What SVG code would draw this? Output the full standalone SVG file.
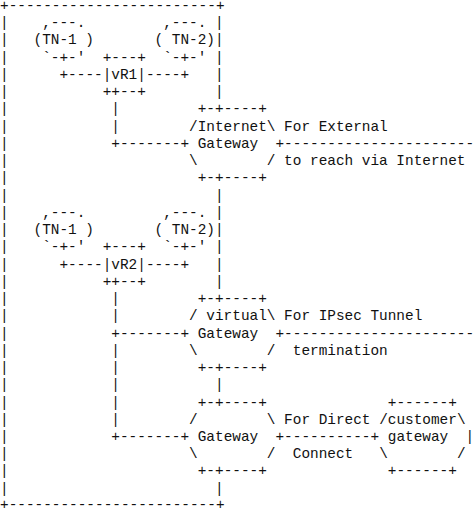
<svg xmlns="http://www.w3.org/2000/svg" width="474" height="510" viewBox="0 0 474 510" xml:space="preserve">
<style>
text { font-family: "Liberation Mono", "Courier New", monospace; font-size: 14.4px; fill: #111; white-space: pre; }
</style>
<rect x="0" y="0" width="474" height="510" fill="#fff"/>
<g id="frame">
<text x="0" y="10">+------------------------+</text>
<text x="0" y="509">+------------------------+</text>
<text><tspan x="0" y="27.24">|</tspan><tspan x="0" y="44.48">|</tspan><tspan x="0" y="61.72">|</tspan><tspan x="0" y="78.96">|</tspan><tspan x="0" y="96.2">|</tspan><tspan x="0" y="113.44">|</tspan><tspan x="0" y="130.68">|</tspan><tspan x="0" y="147.92">|</tspan><tspan x="0" y="165.16">|</tspan><tspan x="0" y="182.4">|</tspan><tspan x="0" y="199.64">|</tspan><tspan x="0" y="216.88">|</tspan><tspan x="0" y="234.12">|</tspan><tspan x="0" y="251.36">|</tspan><tspan x="0" y="268.6">|</tspan><tspan x="0" y="285.84">|</tspan><tspan x="0" y="303.08">|</tspan><tspan x="0" y="320.32">|</tspan><tspan x="0" y="337.56">|</tspan><tspan x="0" y="354.8">|</tspan><tspan x="0" y="372.04">|</tspan><tspan x="0" y="389.28">|</tspan><tspan x="0" y="406.52">|</tspan><tspan x="0" y="423.76">|</tspan><tspan x="0" y="441">|</tspan><tspan x="0" y="458.24">|</tspan><tspan x="0" y="475.48">|</tspan><tspan x="0" y="492.72">|</tspan></text>
<text><tspan x="215" y="27.24">|</tspan><tspan x="215" y="44.48">|</tspan><tspan x="215" y="61.72">|</tspan><tspan x="215" y="78.96">|</tspan><tspan x="215" y="96.2">|</tspan><tspan x="215" y="199.64">|</tspan><tspan x="215" y="216.88">|</tspan><tspan x="215" y="234.12">|</tspan><tspan x="215" y="251.36">|</tspan><tspan x="215" y="268.6">|</tspan><tspan x="215" y="285.84">|</tspan><tspan x="215" y="389.28">|</tspan><tspan x="215" y="492.72">|</tspan></text>
</g>
<g id="tn1-a">
<text x="42.2" y="27.24">,---.</text>
<text x="33.56" y="44.48">(TN-1 )</text>
<text x="42.2" y="61.72">`-+-'</text>
</g>
<g id="tn2-a">
<text x="163.16" y="27.24">,---.</text>
<text x="154.52" y="44.48">( TN-2)</text>
<text x="163.16" y="61.72">`-+-'</text>
</g>
<g id="vr1">
<text x="102.68" y="61.72">+---+</text>
<text x="102.68" y="78.96">|vR1|</text>
<text x="102.68" y="96.2">++--+</text>
</g>
<g id="internet-gateway">
<text x="197.72" y="113.44">+-+----+</text>
<text x="189.08" y="130.68">/Internet\</text>
<text x="197.72" y="147.92">Gateway</text>
<text x="189.08" y="165.16">\        /</text>
<text x="197.72" y="182.4">+-+----+</text>
<text x="284.12" y="130.68">For External</text>
<text x="284.12" y="165.16">to reach via Internet</text>
</g>
<g id="tn1-b">
<text x="42.2" y="216.88">,---.</text>
<text x="33.56" y="234.12">(TN-1 )</text>
<text x="42.2" y="251.36">`-+-'</text>
</g>
<g id="tn2-b">
<text x="163.16" y="216.88">,---.</text>
<text x="154.52" y="234.12">( TN-2)</text>
<text x="163.16" y="251.36">`-+-'</text>
</g>
<g id="vr2">
<text x="102.68" y="251.36">+---+</text>
<text x="102.68" y="268.6">|vR2|</text>
<text x="102.68" y="285.84">++--+</text>
</g>
<g id="virtual-gateway">
<text x="197.72" y="303.08">+-+----+</text>
<text x="189.08" y="320.32">/ virtual\</text>
<text x="197.72" y="337.56">Gateway</text>
<text x="189.08" y="354.8">\        /</text>
<text x="197.72" y="372.04">+-+----+</text>
<text x="284.12" y="320.32">For IPsec Tunnel</text>
<text x="292.76" y="354.8">termination</text>
</g>
<g id="direct-connect-gateway">
<text x="197.72" y="406.52">+-+----+</text>
<text x="189.08" y="423.76">/        \</text>
<text x="197.72" y="441">Gateway</text>
<text x="189.08" y="458.24">\        /</text>
<text x="197.72" y="475.48">+-+----+</text>
<text x="284.12" y="423.76">For Direct</text>
<text x="292.76" y="458.24">Connect</text>
</g>
<g id="customer-gateway">
<text x="387.8" y="406.52">+------+</text>
<text x="379.16" y="423.76">/customer\</text>
<text x="387.8" y="441">gateway  |</text>
<text x="379.16" y="458.24">\        /</text>
<text x="387.8" y="475.48">+------+</text>
</g>
<g id="connectors">
<text x="59.48" y="78.96">+----</text>
<text x="145.88" y="78.96">----+</text>
<text x="59.48" y="268.6">+----</text>
<text x="145.88" y="268.6">----+</text>
<text><tspan x="111.32" y="113.44">|</tspan><tspan x="111.32" y="130.68">|</tspan></text>
<text x="111.32" y="147.92">+-------+</text>
<text x="275.48" y="147.92">+----------------------</text>
<text><tspan x="111.32" y="303.08">|</tspan><tspan x="111.32" y="320.32">|</tspan></text>
<text x="111.32" y="337.56">+-------+</text>
<text x="275.48" y="337.56">+----------------------</text>
<text><tspan x="111.32" y="354.8">|</tspan><tspan x="111.32" y="372.04">|</tspan><tspan x="111.32" y="389.28">|</tspan><tspan x="111.32" y="406.52">|</tspan><tspan x="111.32" y="423.76">|</tspan></text>
<text x="111.32" y="441">+-------+</text>
<text x="275.48" y="441">+----------+</text>
</g>
</svg>
